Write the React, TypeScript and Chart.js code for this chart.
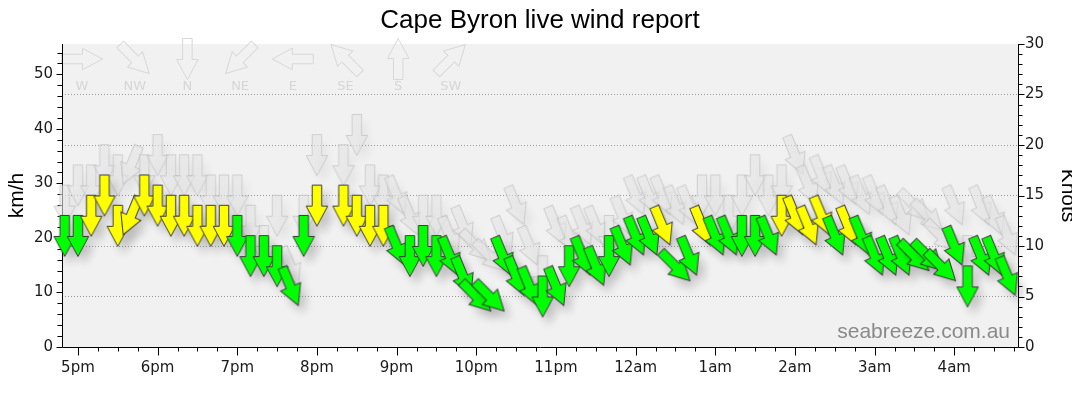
import React, { useEffect, useRef } from 'react';
import { Chart, registerables } from 'chart.js';
Chart.register(...registerables);

// ---------- data (knots, 10-minute observations) ----------
const times = [
  '16:50', '17:00', '17:10', '17:20', '17:30', '17:40', '17:50', '18:00', '18:10', '18:20', '18:30', '18:40',
  '18:50', '19:00', '19:10', '19:20', '19:30', '19:40', '19:50', '20:00', '20:10', '20:20', '20:30', '20:40',
  '20:50', '21:00', '21:10', '21:20', '21:30', '21:40', '21:50', '22:00', '22:10', '22:20', '22:30', '22:40',
  '22:50', '23:00', '23:10', '23:20', '23:30', '23:40', '23:50', '00:00', '00:10', '00:20', '00:30', '00:40',
  '00:50', '01:00', '01:10', '01:20', '01:30', '01:40', '01:50', '02:00', '02:10', '02:20', '02:30', '02:40',
  '02:50', '03:00', '03:10', '03:20', '03:30', '03:40', '03:50', '04:00', '04:10', '04:20', '04:30', '04:40',
];
const windKts: (number | null)[] = [
  11, 11, 13, 15, 12, 13, 15, 14, 13, 13, 12, 12,
  12, 11, 9, 9, 8, 6, 11, 14, null, 14, 13, 12,
  12, 10, 9, 10, 9, 9, 7, 5, 5, 9, 7, 6,
  5, 6, 8, 9, 8, 9, 10, 11, 11, 12, 8, 9,
  12, 11, 11, 11, 11, 11, 13, 13, 12, 13, 11, 12,
  11, 9, 9, 9, 9, 9, 8, 10, 6, 9, 9, 7,
];
const windDir: (string | null)[] = [
  'N', 'N', 'N', 'N', 'N', 'NNE', 'N', 'N', 'N', 'N', 'N', 'N',
  'N', 'N', 'N', 'N', 'N', 'NNW', 'N', 'N', null, 'N', 'N', 'N',
  'N', 'NNW', 'N', 'N', 'N', 'NNW', 'NNW', 'NW', 'NW', 'NNW', 'NNW', 'NNW',
  'N', 'NNW', 'N', 'NNW', 'NNW', 'N', 'NNW', 'NNW', 'NNW', 'NNW', 'NW', 'NNW',
  'NNW', 'NNW', 'NNW', 'N', 'N', 'NNW', 'N', 'NNW', 'NNW', 'NNW', 'NNW', 'NNW',
  'NNW', 'NNW', 'NNW', 'NNW', 'NW', 'NW', 'NW', 'NNW', 'N', 'NNW', 'NNW', 'NNW',
];
const gustKts: (number | null)[] = [
  14, 16, 16, 18, 17, 18, 17, 19, 17, 17, 17, 15,
  15, 15, 12, 10, 13, 8, 13, 19, null, 18, 21, 16,
  15, 15, 13, 13, 13, 11, 12, 10, 9, 11, 14, 10,
  7, 12, 11, 12, 12, 11, 13, 15, 15, 15, 14, 14,
  15, 15, 13, 15, 17, 15, 16, 19, 16, 17, 16, 16,
  15, 15, 14, 13, 14, 13, 11, 14, 9, 14, 13, 11,
];
const gustDir: (string | null)[] = [
  'N', 'N', 'N', 'N', 'N', 'NNE', 'N', 'N', 'N', 'N', 'N', 'N',
  'N', 'N', 'N', 'N', 'N', 'NNW', 'N', 'N', null, 'N', 'N', 'N',
  'N', 'NNW', 'NNW', 'N', 'N', 'NNW', 'NNW', 'NW', 'NW', 'NNW', 'NNW', 'NNW',
  'N', 'NNW', 'NNW', 'NNW', 'NNW', 'N', 'NNW', 'NNW', 'NNW', 'NNW', 'NNW', 'NNW',
  'N', 'N', 'N', 'N', 'N', 'N', 'N', 'NNW', 'NNW', 'NNW', 'NNW', 'NNW',
  'NNW', 'NNW', 'NNW', 'NNW', 'NW', 'NW', 'NW', 'NNW', 'N', 'NNW', 'NNW', 'NNW',
];
const hourLabels = ['5pm', '6pm', '7pm', '8pm', '9pm', '10pm', '11pm', '12am', '1am', '2am', '3am', '4am'];
const hourTimes = ['17:00', '18:00', '19:00', '20:00', '21:00', '22:00', '23:00', '00:00', '01:00', '02:00', '03:00', '04:00'];
const kmhTicks = [0, 10, 20, 30, 40, 50];
const knotTicks = [0, 5, 10, 15, 20, 25, 30];
const legendDirs = ['W', 'NW', 'N', 'NE', 'E', 'SE', 'S', 'SW'];
const TITLE = 'Cape Byron live wind report';
const WATERMARK = 'seabreeze.com.au';

const KMH_PER_KNOT = 1.852;
const KNOTS_MAX = 30;
const X_MIN = '16:48';
const X_MAX = '04:48';

const COMPASS: Record<string, number> = {
  N: 0, NNE: 22.5, NE: 45, ENE: 67.5, E: 90, ESE: 112.5, SE: 135, SSE: 157.5,
  S: 180, SSW: 202.5, SW: 225, WSW: 247.5, W: 270, WNW: 292.5, NW: 315, NNW: 337.5,
};

function toMinutes(t: string): number {
  const [h, m] = t.split(':').map(Number);
  return ((h < 16 ? h + 24 : h) - 16) * 60 + m;
}

// ---------- arrow drawing ----------
function arrowPath(ctx: CanvasRenderingContext2D) {
  const half = 20.5, shaftW = 9.5, headW = 21.5, headL = 20;
  ctx.beginPath();
  ctx.moveTo(-shaftW / 2, -half);
  ctx.lineTo(shaftW / 2, -half);
  ctx.lineTo(shaftW / 2, half - headL);
  ctx.lineTo(headW / 2, half - headL);
  ctx.lineTo(0, half);
  ctx.lineTo(-headW / 2, half - headL);
  ctx.lineTo(-shaftW / 2, half - headL);
  ctx.closePath();
}

const imgCache: Record<string, HTMLCanvasElement> = {};
function arrowImage(kind: 'green' | 'yellow' | 'gust', deg: number): HTMLCanvasElement {
  const key = kind + deg;
  if (imgCache[key]) return imgCache[key];
  const S = 100;
  const c = document.createElement('canvas');
  c.width = S;
  c.height = S;
  const ctx = c.getContext('2d')!;
  ctx.translate(S / 2, S / 2);
  ctx.rotate((deg * Math.PI) / 180);
  arrowPath(ctx);
  if (kind === 'gust') {
    ctx.shadowColor = 'rgba(0,0,0,0.09)';
    ctx.shadowBlur = 10;
    ctx.shadowOffsetX = 6;
    ctx.shadowOffsetY = 8;
    ctx.fillStyle = 'rgba(228,228,228,0.6)';
    ctx.fill();
    ctx.shadowColor = 'transparent';
    ctx.strokeStyle = 'rgba(175,175,175,0.5)';
    ctx.lineWidth = 1;
    ctx.stroke();
  } else {
    ctx.shadowColor = 'rgba(0,0,0,0.2)';
    ctx.shadowBlur = 10;
    ctx.shadowOffsetX = 6;
    ctx.shadowOffsetY = 8;
    ctx.fillStyle = kind === 'green' ? '#00ff00' : '#ffff00';
    ctx.fill();
    ctx.shadowColor = 'transparent';
    ctx.strokeStyle = '#3c3c3c';
    ctx.lineWidth = 1;
    ctx.stroke();
  }
  imgCache[key] = c;
  return c;
}

const overlayPlugin = {
  id: 'overlay',
  beforeDraw(chart: any) {
    const { ctx, chartArea: a } = chart;
    ctx.save();
    ctx.fillStyle = '#f1f1f1';
    ctx.fillRect(a.left, a.top, a.right - a.left, a.bottom - a.top);
    ctx.restore();
  },
  beforeDatasetsDraw(chart: any) {
    const { ctx, chartArea: a, scales } = chart;
    ctx.save();
    // direction legend
    legendDirs.forEach((d, i) => {
      const cx = a.left + 20 + i * 52.7;
      const cy = a.top + 15;
      ctx.save();
      ctx.translate(cx, cy);
      ctx.rotate((COMPASS[d] * Math.PI) / 180);
      arrowPath(ctx);
      ctx.strokeStyle = '#d8d8d8';
      ctx.lineWidth = 1;
      ctx.stroke();
      ctx.restore();
      ctx.fillStyle = '#d6d6d6';
      ctx.font = '13px "DejaVu Sans"';
      ctx.textAlign = 'center';
      ctx.textBaseline = 'middle';
      ctx.fillText(d, cx, a.top + 43);
    });
    // watermark
    ctx.fillStyle = '#8a8a8a';
    ctx.font = '21px "Liberation Sans", Arial, sans-serif';
    ctx.textAlign = 'right';
    ctx.textBaseline = 'alphabetic';
    ctx.fillText(WATERMARK, a.right - 8, a.bottom - 9.5);
    // axes lines and tick marks
    const L = Math.round(a.left) + 0.5;
    const R = Math.round(a.right) + 0.5;
    const B = Math.round(a.bottom) + 0.5;
    const T = Math.round(a.top);
    ctx.strokeStyle = '#000';
    ctx.lineWidth = 1;
    ctx.beginPath();
    ctx.moveTo(L, T);
    ctx.lineTo(L, B);
    ctx.lineTo(R, B);
    ctx.moveTo(R, T);
    ctx.lineTo(R, B);
    const yl = scales.y, yr = scales.y1, xs = scales.x;
    for (let v = 0; v <= 54; v += 2) {
      const y = Math.round(yl.getPixelForValue(v)) + 0.5;
      const len = v % 10 === 0 ? 6 : 5;
      ctx.moveTo(L - len, y);
      ctx.lineTo(L, y);
    }
    for (let v = 0; v <= KNOTS_MAX; v += 1) {
      const y = Math.round(yr.getPixelForValue(v)) + 0.5;
      const len = v % 5 === 0 ? 6 : 4;
      ctx.moveTo(R, y);
      ctx.lineTo(R + len, y);
    }
    const first = toMinutes(hourTimes[0]);
    for (let m = first; m <= toMinutes(X_MAX); m += 15) {
      const x = Math.round(xs.getPixelForValue(m)) + 0.5;
      const len = (m - first) % 60 === 0 ? 8 : 4;
      ctx.moveTo(x, B);
      ctx.lineTo(x, B + len);
    }
    ctx.stroke();
    ctx.restore();
  },
};

export default function App() {
  const ref = useRef<HTMLCanvasElement>(null);
  useEffect(() => {
    const windPts: { x: number; y: number }[] = [];
    const windImgs: HTMLCanvasElement[] = [];
    const gustPts: { x: number; y: number }[] = [];
    const gustImgs: HTMLCanvasElement[] = [];
    times.forEach((t, i) => {
      const w = windKts[i];
      const wd = windDir[i];
      if (w !== null && wd !== null) {
        windPts.push({ x: toMinutes(t), y: w });
        windImgs.push(arrowImage(w >= 12 ? 'yellow' : 'green', COMPASS[wd]));
      }
      const g = gustKts[i];
      const gd = gustDir[i];
      if (g !== null && gd !== null) {
        gustPts.push({ x: toMinutes(t), y: g });
        gustImgs.push(arrowImage('gust', COMPASS[gd]));
      }
    });
    const tickFont = { family: '"DejaVu Sans", Verdana, sans-serif', size: 15 };
    const chart = new Chart(ref.current!, {
      type: 'scatter',
      data: {
        datasets: [
          {
            label: 'Wind',
            data: windPts,
            yAxisID: 'y1',
            pointStyle: (c: any) => windImgs[c.dataIndex],
            pointRadius: 10,
            showLine: false,
            clip: false,
          } as any,
          {
            label: 'Gust',
            data: gustPts,
            yAxisID: 'y1',
            pointStyle: (c: any) => gustImgs[c.dataIndex],
            pointRadius: 10,
            showLine: false,
            clip: false,
          } as any,
        ],
      },
      options: {
        responsive: false,
        animation: false,
        events: [],
        layout: { padding: 0 },
        plugins: {
          legend: { display: false },
          tooltip: { enabled: false },
          title: {
            display: true,
            text: TITLE,
            color: '#000',
            font: { family: '"Liberation Sans", Arial, sans-serif', size: 26, weight: 'normal', lineHeight: 1 },
            padding: { top: 0, bottom: 10 },
          },
        },
        scales: {
          x: {
            type: 'linear',
            position: 'bottom',
            min: toMinutes(X_MIN),
            max: toMinutes(X_MAX),
            grid: { display: false, drawTicks: false },
            border: { display: false },
            afterBuildTicks: (s: any) => {
              s.ticks = hourTimes.map((t) => ({ value: toMinutes(t) }));
            },
            ticks: {
              autoSkip: false,
              maxRotation: 0,
              padding: 12,
              color: '#1a1a1a',
              font: tickFont,
              callback: (_v: any, i: number) => hourLabels[i],
            },
            afterFit: (s: any) => {
              s.height = 59;
            },
          },
          y: {
            position: 'left',
            min: 0,
            max: KNOTS_MAX * KMH_PER_KNOT,
            grid: { display: false, drawTicks: false },
            border: { display: false },
            afterBuildTicks: (s: any) => {
              s.ticks = kmhTicks.map((v) => ({ value: v }));
            },
            ticks: { padding: 9, color: '#1a1a1a', font: tickFont, callback: (v: any) => String(v) },
            title: {
              display: true,
              text: 'km/h',
              color: '#000',
              font: { family: '"Liberation Sans", Arial, sans-serif', size: 21, lineHeight: 1 },
              padding: { top: -1.5, bottom: 0 },
            },
            afterFit: (s: any) => {
              s.width = 54;
            },
          },
          y1: {
            position: 'right',
            min: 0,
            max: KNOTS_MAX,
            grid: {
              display: true,
              drawTicks: false,
              lineWidth: 1,
              color: (c: any) => (c.tick && c.tick.value > 0 && c.tick.value < KNOTS_MAX ? '#9c9c9c' : 'rgba(0,0,0,0)'),
            },
            border: { display: false, dash: [1, 2] },
            afterBuildTicks: (s: any) => {
              s.ticks = knotTicks.map((v) => ({ value: v }));
            },
            ticks: { padding: 7, color: '#1a1a1a', font: tickFont, callback: (v: any) => String(v) },
            title: {
              display: true,
              text: 'Knots',
              color: '#000',
              font: { family: '"Liberation Sans", Arial, sans-serif', size: 21, lineHeight: 1 },
              padding: { top: -6, bottom: 0 },
            },
            afterFit: (s: any) => {
              s.width = 54;
            },
          },
        },
      } as any,
      plugins: [overlayPlugin],
    });
    return () => chart.destroy();
  }, []);
  return (
    <div style={{ width: 1064, height: 398 }}>
      <canvas ref={ref} width={1064} height={398} style={{ display: 'block' }} />
    </div>
  );
}
